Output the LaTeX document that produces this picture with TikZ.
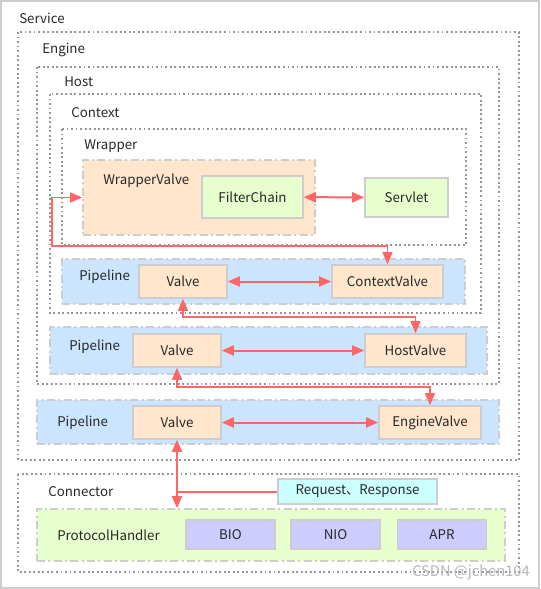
\documentclass[tikz,border=0pt]{standalone}
\usepackage{fontspec}
\setmainfont{Noto Sans CJK SC}
\definecolor{tcred}{RGB}{255,102,102}
\definecolor{tcdot}{RGB}{150,150,150}
\definecolor{tcedge}{RGB}{205,205,205}
\definecolor{tcorange}{RGB}{255,230,204}
\definecolor{tcblue}{RGB}{204,229,255}
\definecolor{tcgreen}{RGB}{230,255,204}
\definecolor{tccyan}{RGB}{204,255,255}
\definecolor{tcviolet}{RGB}{204,204,255}
\definecolor{tctext}{RGB}{40,40,40}
\usetikzlibrary{arrows.meta,positioning,calc}

\begin{document}
\begin{tikzpicture}[x=0.75pt, y=-0.75pt, font=\fontsize{10}{12}\selectfont, text=tctext,
    container/.style={draw=tcdot, line width=1.2pt, dash pattern=on 1.4pt off 2pt},
    title/.style={anchor=west, inner sep=0pt},
    group/.style={draw=tcedge, line width=1.2pt, dash pattern=on 6pt off 2.5pt on 1.5pt off 2.5pt},
    box/.style={draw=tcedge, line width=1.2pt, inner sep=0pt},
    valve/.style={box, fill=tcorange, minimum width=66pt, minimum height=24.75pt},
    io/.style={box, fill=tcviolet, minimum width=66.75pt, minimum height=21.75pt},
    link/.style={draw=tcred, line width=1.5pt, {Triangle[length=9pt,width=7.5pt]}-{Triangle[length=9pt,width=7.5pt]}},
    hop/.style={link, line width=1.1pt}]
    \useasboundingbox (0,0) rectangle (541,589);

    % Service frame and nested containers
    \draw[draw=tcedge, line width=0.8pt] (1,1) rectangle (539,588);
    \node[title] (tservice) at (19,18) {Service};
    \draw[container] (18,32) rectangle (519,460);
    \node[title] (tengine) at (42,50) {Engine};
    \draw[container] (37,67) rectangle (499,384);
    \node[title] (thost) at (64,82) {Host};
    \draw[container] (50,94) rectangle (481,313);
    \node[title] (tcontext) at (71,113) {Context};
    \draw[container] (62,129) rectangle (466,245);
    \node[title] (twrapper) at (84,146) {Wrapper};

    % Wrapper
    \node[group, fill=tcorange, minimum width=174pt, minimum height=56.25pt] (wvalve) at (199,197.5) {};
    \node[title] (twvalve) at (103,181) {WrapperValve};
    \node[box, fill=tcgreen, minimum width=75.75pt, minimum height=31.5pt] (filter) at (252.5,197) {FilterChain};
    \node[box, fill=tcgreen, minimum width=62.25pt, minimum height=29.25pt] (servlet) at (406.5,197.5) {Servlet};
    \draw[link] (filter) -- (servlet);

    % Context pipeline
    \node[group, fill=tcblue, minimum width=302.25pt, minimum height=33.75pt] (pipe1) at (263.5,281.5) {};
    \node[title] (tpipe1) at (79,277) {Pipeline};
    \node[valve] (valve1) at (183,281.5) {Valve};
    \node[valve, minimum width=83.25pt] (ctxvalve) at (387.5,281.5) {ContextValve};
    \draw[link] (valve1) -- (ctxvalve);

    % Host pipeline
    \node[group, fill=tcblue, minimum width=327.75pt, minimum height=35.25pt] (pipe2) at (268.5,350.5) {};
    \node[title] (tpipe2) at (69,347) {Pipeline};
    \node[valve] (valve2) at (177,350.5) {Valve};
    \node[valve, minimum width=75.75pt] (hostvalve) at (415.5,350.5) {HostValve};
    \draw[link] (valve2) -- (hostvalve);

    % Engine pipeline
    \node[group, fill=tcblue, minimum width=346.5pt, minimum height=33pt] (pipe3) at (268,422) {};
    \node[title] (tpipe3) at (57,423) {Pipeline};
    \node[valve] (valve3) at (177,422.5) {Valve};
    \node[valve, minimum width=76.5pt] (enginevalve) at (430,422.5) {EngineValve};
    \draw[link] (valve3) -- (enginevalve);

    % hops between levels
    \draw[hop] (wvalve.west) -- ++(-30,0) |- ([yshift=13.5pt]ctxvalve.north) -- (ctxvalve.north);
    \draw[hop] (valve1.south) -- ++(0,18) -| (hostvalve.north);
    \draw[hop] (valve2.south) -- ++(0,19) -| (enginevalve.north);

    % Connector
    \draw[container] (18,474) rectangle (519,572);
    \node[title] (tconnector) at (48,492) {Connector};
    \node[box, fill=tccyan, minimum width=119.25pt, minimum height=18.75pt] (reqresp) at (357.5,491.5) {Request、Response};
    \node[group, fill=tcgreen, minimum width=351pt, minimum height=39pt] (protocol) at (271,535) {};
    \node[title] (tprotocol) at (57,535) {ProtocolHandler};
    \node[io] (bio) at (230.5,534.5) {BIO};
    \node[io] (nio) at (335.5,534.5) {NIO};
    \node[io] (apr) at (442,534.5) {APR};

    \coordinate (tap) at (valve3.south |- protocol.north);
    \coordinate (join) at (valve3.south |- reqresp.west);
    \draw[link] (valve3.south) -- (tap);
    \draw[draw=tcred, line width=1.5pt] (reqresp.west) -- (join);

    \node[text=tcdot!70, font=\fontsize{11}{13}\selectfont] (mark) at (471,572) {CSDN @jchen104};
\end{tikzpicture}
\end{document}
